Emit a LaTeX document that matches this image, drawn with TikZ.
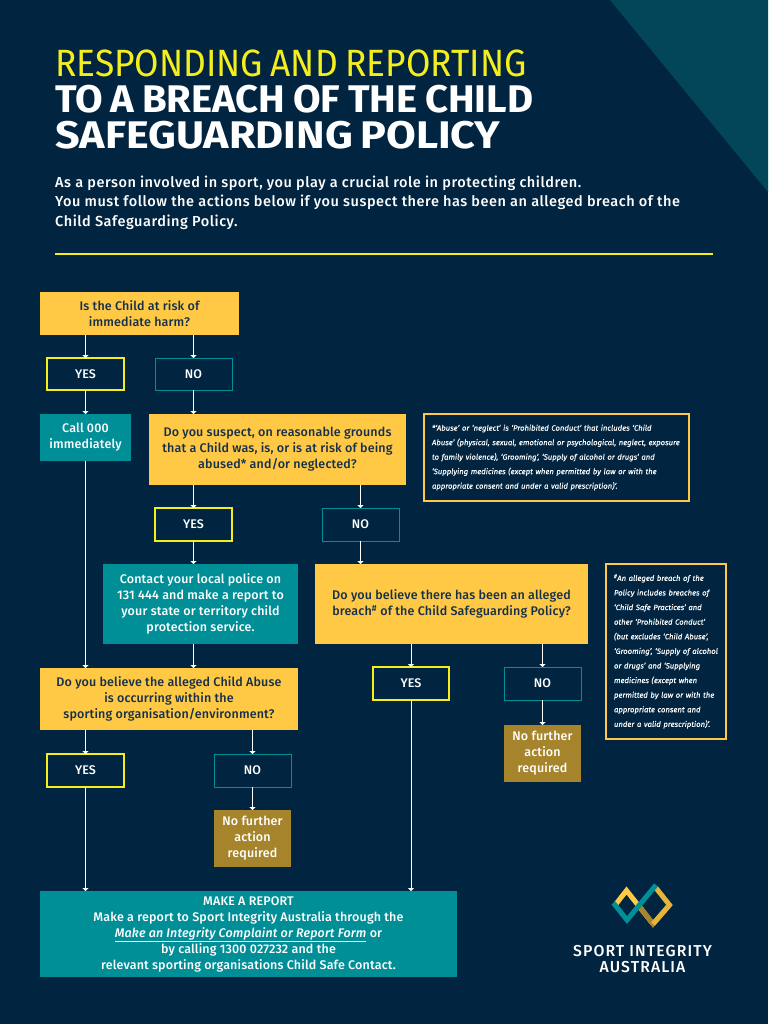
\documentclass[tikz,border=0pt]{standalone}
\usepackage{fontspec}
\setmainfont{Fira Sans}[BoldFont={Fira Sans Bold},ItalicFont={Fira Sans Italic},BoldItalicFont={Fira Sans Bold Italic}]
\newfontfamily\titlereg{Fira Sans}[FakeStretch=0.93]
\newfontfamily\titlebold{Fira Sans Bold}[FakeStretch=1.04]
\newfontfamily\titleboldb{Fira Sans Bold}[FakeStretch=1.12]
\newfontfamily\introf{Fira Sans Medium}[LetterSpace=3.7]
\newfontfamily\boxf{Fira Sans Medium}[LetterSpace=1.2]
\newfontfamily\logof{Fira Sans Medium}[LetterSpace=7]
\newfontfamily\notef{Fira Sans Italic}[FakeBold=0.3]
\definecolor{bgnavy}{HTML}{012540}
\definecolor{tri}{HTML}{03465A}
\definecolor{gold}{HTML}{FFC845}
\definecolor{teal}{HTML}{008E97}
\definecolor{brown}{HTML}{A5842B}
\definecolor{yel}{HTML}{F5EE1E}
\definecolor{navytext}{HTML}{14304A}
\usetikzlibrary{arrows.meta}
\tikzset{
  x=1pt,y=-1pt,
  base/.style={inner sep=2pt,outer sep=0pt,align=center,font=\boxf\fontsize{12.5}{16}\selectfont},
  qbox/.style={base,fill=gold,text=navytext},
  tealbox/.style={base,fill=teal,text=white},
  brownbox/.style={base,fill=brown,text=white},
  yesbox/.style={base,draw=yel,line width=1.1pt,text=white},
  nobox/.style={base,draw=teal,line width=1pt,text=white},
  notebox/.style={draw=gold,line width=1.4pt,text=white,inner sep=0pt,outer sep=0pt,align=left},
  arr/.style={draw=white,line width=1pt,-{Triangle[width=6pt,length=3pt]}},
  band/.style={line width=5pt,line join=miter,line cap=butt},
  ttl/.style={anchor=base west,inner sep=0pt}
}
% \bx{style}{name}{x0}{y0}{x1}{y1}{text}
\newcommand{\bx}[7]{%
  \pgfmathsetmacro{\bxw}{#5-#3}\pgfmathsetmacro{\bxh}{#6-#4}%
  \node[#1,minimum width=\bxw pt,minimum height=\bxh pt] (#2) at ({(#3+#5)/2},{(#4+#6)/2}) {\vspace*{2pt}#7};}
\begin{document}
\begin{tikzpicture}
\useasboundingbox (0,0) rectangle (768,1024);
\fill[bgnavy] (0,0) rectangle (768,1024);
\fill[tri] (610,0) -- (768,0) -- (768,192) -- cycle;
\node[ttl,text=yel,font=\titlereg\fontsize{38}{38}\selectfont] (t1) at (55,77) {\spaceskip=0.2em RESPONDING AND REPORTING};
\node[ttl,text=white,font=\titlebold\fontsize{38.5}{38}\selectfont] (t2) at (55,113) {\spaceskip=0.2em TO A BREACH OF THE CHILD};
\node[ttl,text=white,font=\titleboldb\fontsize{38.5}{38}\selectfont] (t3) at (55,149) {\spaceskip=0.2em SAFEGUARDING POLICY};
\node[ttl,text=white,font=\introf\fontsize{14.5}{14}\selectfont] (i1) at (55,188) {As a person involved in sport, you play a crucial role in protecting children.};
\node[ttl,text=white,font=\introf\fontsize{14.5}{14}\selectfont] (i2) at (55,207) {You must follow the actions below if you suspect there has been an alleged breach of the};
\node[ttl,text=white,font=\introf\fontsize{14.5}{14}\selectfont] (i3) at (55,226) {Child Safeguarding Policy.};
\fill[yel] (55,253) rectangle (713,254.5);

\bx{qbox}{q1}{40}{292}{239}{335}{Is the Child at risk of\\immediate harm?}
\bx{yesbox}{y1}{47}{358}{124}{390}{YES}
\bx{nobox}{n1}{155}{358}{232}{390}{NO}
\bx{tealbox}{call}{40}{414}{131}{461}{Call 000\\immediately}
\bx{qbox}{q2}{149}{414}{406}{485}{Do you suspect, on reasonable grounds\\that a Child was, is, or is at risk of being\\abused* and/or neglected?}
\bx{yesbox}{y2}{155}{508}{232}{541}{YES}
\bx{nobox}{n2}{322}{508}{399}{541}{NO}
\bx{tealbox}{police}{103}{564}{298}{644}{Contact your local police on\\131 444 and make a report to\\your state or territory child\\protection service.}
\bx{qbox}{q3}{315}{564}{588}{644}{Do you believe there has been an alleged\\breach\textsuperscript{\#} of the Child Safeguarding Policy?}
\bx{qbox}{q4}{40}{668}{298}{730}{Do you believe the alleged Child Abuse\\is occurring within the\\sporting organisation/environment?}
\bx{yesbox}{y3}{47}{754}{124}{787}{YES}
\bx{nobox}{n3}{214}{754}{291}{787}{NO}
\bx{brownbox}{nf1}{214}{810}{291}{867}{No further\\action\\required}
\bx{yesbox}{y4}{373}{667}{449}{700}{YES}
\bx{nobox}{n4}{504}{667}{581}{700}{NO}
\bx{brownbox}{nf2}{504}{725}{581}{782}{No further\\action\\required}
\bx{tealbox}{rep}{40}{891}{457}{977}{MAKE A REPORT\\Make a report to Sport Integrity Australia through the\\\underline{\textit{Make an Integrity Complaint or Report Form}} or\\by calling 1300 027232 and the\\relevant sporting organisations Child Safe Contact.}

\node[notebox,minimum width=265pt,minimum height=87pt,text width=265pt,font=\notef\fontsize{7.7}{14.5}\selectfont] (note1) at (556.5,457.5) {\hspace*{8pt}*‘Abuse’ or ‘neglect’ is ‘Prohibited Conduct’ that includes ‘Child\\\hspace*{8pt}Abuse’ (physical, sexual, emotional or psychological, neglect, exposure\\\hspace*{8pt}to family violence), ‘Grooming’, ‘Supply of alcohol or drugs’ and\\\hspace*{8pt}‘Supplying medicines (except when permitted by law or with the\\\hspace*{8pt}appropriate consent and under a valid prescription)’.};
\node[notebox,minimum width=120pt,minimum height=175pt,text width=120pt,font=\notef\fontsize{7.7}{14.6}\selectfont] (note2) at (666,651.5) {\hspace*{8pt}\textsuperscript{\#}An alleged breach of the\\\hspace*{8pt}Policy includes breaches of\\\hspace*{8pt}‘Child Safe Practices’ and\\\hspace*{8pt}other ‘Prohibited Conduct’\\\hspace*{8pt}(but excludes ‘Child Abuse’,\\\hspace*{8pt}‘Grooming’, ‘Supply of alcohol\\\hspace*{8pt}or drugs’ and ‘Supplying\\\hspace*{8pt}medicines (except when\\\hspace*{8pt}permitted by law or with the\\\hspace*{8pt}appropriate consent and\\\hspace*{8pt}under a valid prescription)’.};

\draw[arr] (q1.south -| y1.north) -- (y1.north);
\draw[arr] (q1.south -| n1.north) -- (n1.north);
\draw[arr] (y1.south) -- (call.north -| y1.south);
\draw[arr] (n1.south) -- (q2.north -| n1.south);
\draw[arr] (call.south -| y1.south) -- (q4.north -| y1.south);
\draw[arr] (q2.south -| y2.north) -- (y2.north);
\draw[arr] (q2.south -| n2.north) -- (n2.north);
\draw[arr] (y2.south) -- (police.north -| y2.south);
\draw[arr] (n2.south) -- (q3.north -| n2.south);
\draw[arr] (police.south -| y2.south) -- (q4.north -| y2.south);
\draw[arr] (q4.south -| y3.north) -- (y3.north);
\draw[arr] (q4.south -| n3.north) -- (n3.north);
\draw[arr] (n3.south) -- (nf1.north);
\draw[arr] (y3.south) -- (rep.north -| y3.south);
\draw[arr] (q3.south -| y4.north) -- (y4.north);
\draw[arr] (q3.south -| n4.north) -- (n4.north);
\draw[arr] (n4.south) -- (nf2.north);
\draw[arr] (y4.south) -- (rep.north -| y4.south);

% logo
\draw[band,gold] (614,906.5) -- (626.5,890.5) -- (653,924);
\draw[band,brown] (640,907) -- (653,924) -- (669.5,905);
\draw[band,gold!70!brown] (653,924) -- (669.5,905) -- (656,888);
\draw[band,teal] (613.5,903) -- (627,920) -- (656,885);
\node[anchor=base,inner sep=0pt,text=white,font=\logof\fontsize{15.8}{15}\selectfont] (l1) at (642.5,956) {SPORT INTEGRITY};
\node[anchor=base,inner sep=0pt,text=white,font=\logof\fontsize{15.8}{15}\selectfont] (l2) at (642.5,972) {AUSTRALIA};
\end{tikzpicture}
\end{document}
